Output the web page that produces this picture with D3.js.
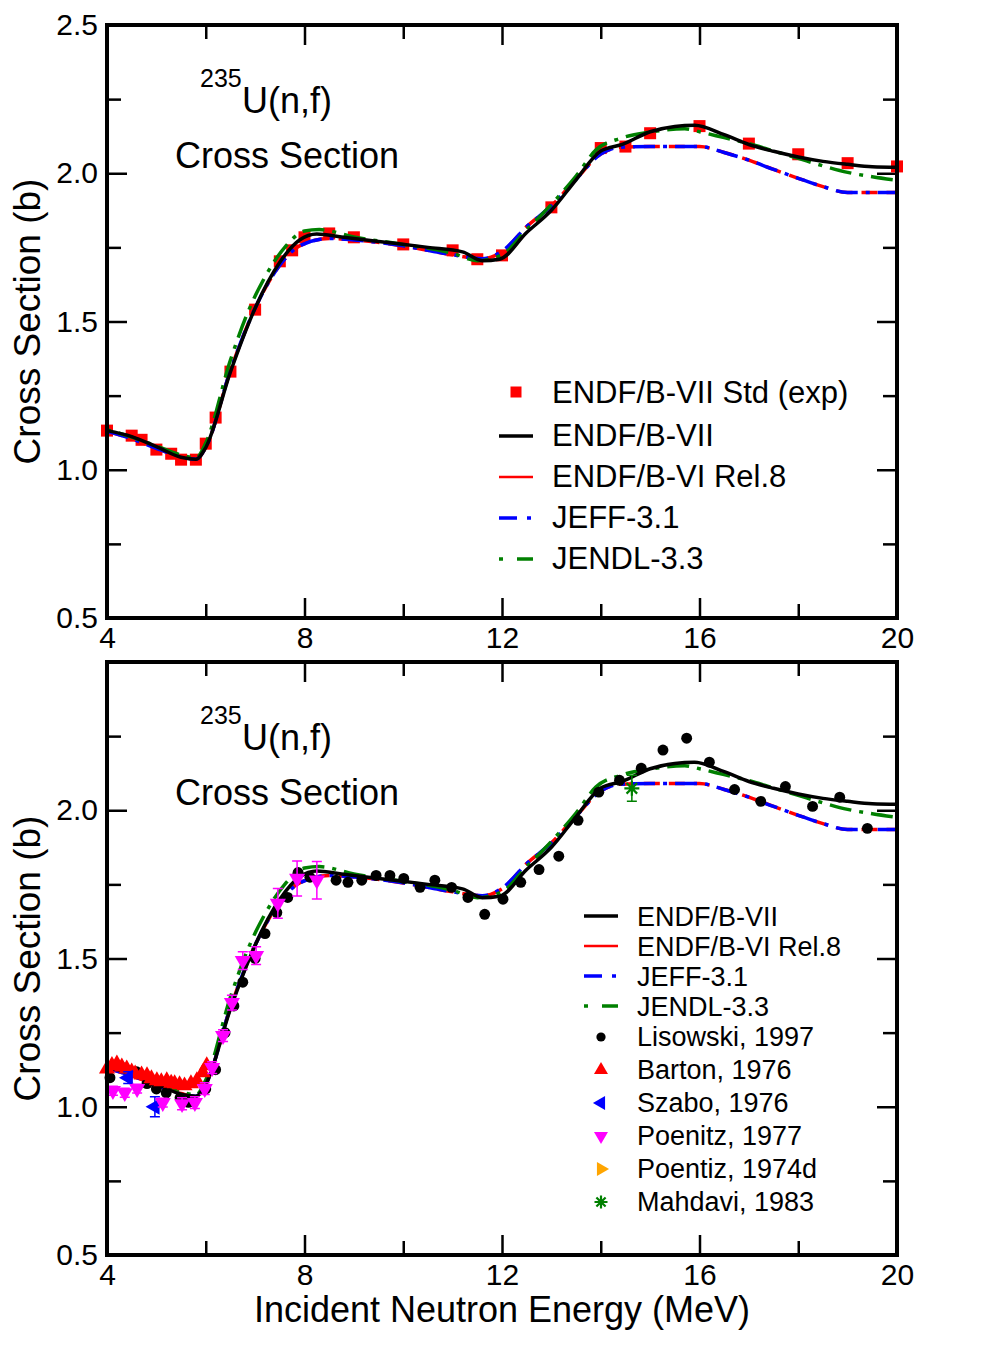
<!DOCTYPE html>
<html>
<head>
<meta charset="utf-8">
<script src="https://cdn.jsdelivr.net/npm/d3@7"></script>
<style>
  body { margin: 0; background: #fff; }
  svg { display: block; }
  text { font-family: "Liberation Sans", Arial, Helvetica, sans-serif; fill: #000; }
</style>
</head>
<body>
<svg id="chart" width="994" height="1347"></svg>
<script>
// ---- data ----
const xMajor = [4, 8, 12, 16, 20];
const xMinor = [6, 10, 14, 18];
const yMajor = [0.5, 1.0, 1.5, 2.0, 2.5];
const yMinor = [0.75, 1.25, 1.75, 2.25];

// ENDF/B-VII standards evaluation (exp), squares in top panel
const stdExp = [[4.0,1.132],[4.5,1.115],[4.7,1.101],[5.0,1.068],[5.3,1.054],[5.5,1.034],[5.8,1.034],
  [6.0,1.088],[6.2,1.176],[6.5,1.331],[7.0,1.54],[7.5,1.703],[7.75,1.74],[8.0,1.784],[8.5,1.797],
  [9.0,1.784],[10.0,1.76],[11.0,1.74],[11.5,1.71],[12.0,1.723],[13.0,1.885],[14.0,2.085],[14.5,2.09],
  [15.0,2.135],[16.0,2.159],[17.0,2.10],[18.0,2.064],[19.0,2.034],[20.0,2.023]];

const endfb7 = [[4,1.132],[4.5,1.112],[5,1.078],[5.5,1.042],[5.8,1.035],[6.0,1.075],[6.5,1.33],[7.0,1.545],
  [7.5,1.70],[7.9,1.775],[8.25,1.795],[8.75,1.785],[9.5,1.77],[10.5,1.75],[11.2,1.735],[11.6,1.705],
  [11.95,1.71],[12.5,1.80],[13,1.875],[13.5,1.978],[14,2.075],[14.45,2.098],[15,2.14],[15.5,2.158],
  [15.9,2.162],[16.5,2.13],[17,2.097],[17.5,2.074],[18,2.055],[18.5,2.04],[19,2.03],[19.5,2.022],[20,2.02]];

const endfb6 = [[4,1.13],[4.5,1.105],[5,1.072],[5.5,1.045],[5.8,1.035],[6,1.075],[6.5,1.335],[7,1.545],
  [7.5,1.69],[7.9,1.755],[8.5,1.78],[9,1.775],[10,1.755],[11,1.725],[11.6,1.712],[12,1.735],[12.5,1.82],
  [13,1.89],[13.5,1.98],[14,2.065],[14.4,2.088],[15,2.09],[16,2.09],[16.5,2.07],[17,2.044],[17.5,2.013],
  [18,1.983],[18.5,1.955],[19,1.935],[20,1.935]];

const jeff31 = [[4,1.13],[4.5,1.105],[5,1.072],[5.5,1.045],[5.8,1.035],[6,1.075],[6.5,1.335],[7,1.545],
  [7.5,1.69],[7.9,1.755],[8.5,1.78],[9,1.775],[10,1.755],[11,1.725],[11.6,1.712],[12,1.737],[12.5,1.82],
  [13,1.89],[13.5,1.98],[14,2.065],[14.4,2.088],[15,2.09],[16,2.09],[16.5,2.07],[17,2.044],[17.5,2.013],
  [18,1.983],[18.5,1.955],[19,1.935],[20,1.935]];

const jendl33 = [[4,1.135],[4.5,1.11],[5,1.08],[5.5,1.05],[5.8,1.04],[6,1.09],[6.5,1.37],[6.85,1.53],
  [7.2,1.65],[7.6,1.75],[8,1.805],[8.3,1.81],[9,1.785],[10,1.76],[11,1.73],[11.5,1.705],[12,1.725],
  [12.5,1.81],[13,1.895],[13.5,1.99],[13.9,2.078],[14.4,2.118],[15,2.139],[15.7,2.15],[16,2.14],
  [16.5,2.12],[17,2.10],[17.5,2.075],[18,2.05],[18.5,2.025],[19,2.003],[19.5,1.988],[20,1.976]];

// experimental sets, bottom panel: [E, sigma] or [E, sigma, error]
const lisowski = [[4.06,1.098],[4.32,1.132],[4.6,1.118],[4.81,1.078],[5.0,1.06],[5.2,1.047],[5.48,1.03],
  [5.65,1.015],[6.0,1.06],[6.2,1.125],[6.39,1.25],[6.57,1.34],[6.75,1.42],[7.0,1.5],[7.2,1.584],
  [7.44,1.655],[7.66,1.706],[7.87,1.79],[8.11,1.774],[8.64,1.764],[8.88,1.757],[9.16,1.764],[9.45,1.78],
  [9.73,1.78],[10.01,1.77],[10.34,1.74],[10.64,1.764],[10.98,1.74],[11.31,1.706],[11.65,1.649],
  [12.02,1.70],[12.38,1.757],[12.75,1.80],[13.15,1.845],[13.54,1.966],[13.96,2.061],[14.38,2.101],
  [14.82,2.142],[15.26,2.203],[15.74,2.243],[16.2,2.162],[16.71,2.07],[17.24,2.03],[17.74,2.08],
  [18.29,2.013],[18.84,2.044],[19.4,1.939]];

const barton = [[4.0,1.128],[4.1,1.14],[4.2,1.145],[4.3,1.135],[4.4,1.128],[4.5,1.118],[4.57,1.111],
  [4.7,1.108],[4.81,1.105],[4.9,1.095],[5.01,1.088],[5.1,1.085],[5.21,1.088],[5.3,1.08],[5.37,1.078],
  [5.47,1.075],[5.57,1.071],[5.7,1.078],[5.82,1.088],[5.94,1.115],[6.02,1.139]];

const szabo = [[4.43,1.098,0.02],[4.97,1.0,0.034]];

const poenitz = [[4.12,1.054,0.015],[4.36,1.047,0.015],[4.61,1.061,0.015],[5.13,1.014,0.015],
  [5.52,1.01,0.02],[5.78,1.014,0.02],[5.98,1.061,0.02],[6.13,1.132,0.02],[6.35,1.24,0.02],
  [6.53,1.351,0.025],[6.75,1.493,0.03],[7.02,1.51,0.03],[7.46,1.686,0.05],[7.85,1.77,0.059],[8.25,1.764,0.063]];

const poentiz74 = [];
const mahdavi = [[14.63,2.074,0.044]];

// ---- layout ----
const svg = d3.select('#chart');
svg.append('rect').attr('width', 994).attr('height', 1347).attr('fill', '#fff');

const x = d3.scaleLinear().domain([4, 20]).range([107, 897]);

const curves = [
  { name: 'ENDF/B-VI Rel.8', data: endfb6, color: '#ff0000', dash: '16,9' },
  { name: 'JEFF-3.1', data: jeff31, color: '#0000ff', dash: '22,8,4,8' },
  { name: 'JENDL-3.3', data: jendl33, color: '#008000', dash: '4,8,22,8' },
  { name: 'ENDF/B-VII', data: endfb7, color: '#000000', dash: null }
];

const tri = d3.symbol().type(d3.symbolTriangle);
const markerSets = [
  { name: 'Lisowski, 1997', data: lisowski, color: '#000', kind: 'circle' },
  { name: 'Barton, 1976', data: barton, color: '#ff0000', kind: 'up' },
  { name: 'Szabo, 1976', data: szabo, color: '#0000ff', kind: 'left' },
  { name: 'Poenitz, 1977', data: poenitz, color: '#ff00ff', kind: 'down' },
  { name: 'Poentiz, 1974d', data: poentiz74, color: '#ffa500', kind: 'right' },
  { name: 'Mahdavi, 1983', data: mahdavi, color: '#008000', kind: 'star' }
];

function drawMarker(g, kind, color, cx, cy, s) {
  const rot = { up: 0, down: 180, left: -90, right: 90 };
  if (kind === 'circle') {
    g.append('circle').attr('cx', cx).attr('cy', cy).attr('r', s * 0.42).attr('fill', color);
  } else if (kind === 'square') {
    g.append('rect').attr('x', cx - s / 2).attr('y', cy - s / 2).attr('width', s).attr('height', s).attr('fill', color);
  } else if (kind === 'star') {
    const r = s * 0.5;
    const p = d3.path();
    for (let a = 0; a < 4; a++) {
      const t = a * Math.PI / 4;
      p.moveTo(cx - r * Math.cos(t), cy - r * Math.sin(t));
      p.lineTo(cx + r * Math.cos(t), cy + r * Math.sin(t));
    }
    g.append('path').attr('d', p.toString()).attr('stroke', color).attr('stroke-width', 2.2);
  } else {
    g.append('path').attr('d', tri.size(s * s * 0.5)())
      .attr('transform', `translate(${cx},${cy}) rotate(${rot[kind]})`)
      .attr('fill', color);
  }
}

function drawPanel(top, bottom, showTopLabel) {
  const y = d3.scaleLinear().domain([0.5, 2.5]).range([bottom, top]);
  const g = svg.append('g');

  const axes = [
    [d3.axisBottom(x), `translate(0,${bottom})`, xMajor, xMinor, d => d],
    [d3.axisTop(x), `translate(0,${top})`, xMajor, xMinor, null],
    [d3.axisLeft(y), `translate(107,0)`, yMajor, yMinor,
      d => (d === 2.5 && !showTopLabel) ? '' : d3.format('.1f')(d)],
    [d3.axisRight(y), `translate(897,0)`, yMajor, yMinor, null]
  ];
  axes.forEach(([ax, tr, major, minor, fmt]) => {
    g.append('g').attr('transform', tr)
      .call(ax.tickValues(major).tickSize(-20).tickPadding(fmt ? 9 : 0).tickFormat(fmt ? fmt : () => ''))
      .call(a => a.select('.domain').remove())
      .call(a => a.selectAll('line').attr('stroke', '#000').attr('stroke-width', 2.5))
      .call(a => a.selectAll('text').attr('font-size', 30).attr('fill', '#000')
        .attr('font-family', '"Liberation Sans", Arial, sans-serif'));
    g.append('g').attr('transform', tr)
      .call(ax.tickValues(minor).tickSize(-14).tickFormat(() => ''))
      .call(a => a.select('.domain').remove())
      .call(a => a.selectAll('line').attr('stroke', '#000').attr('stroke-width', 2.5));
  });

  // title inside the frame
  g.append('text').attr('x', 200).attr('y', top + 62).attr('font-size', 25).text('235');
  g.append('text').attr('x', 242).attr('y', top + 88).attr('font-size', 36).text('U(n,f)');
  g.append('text').attr('x', 175).attr('y', top + 143).attr('font-size', 36).text('Cross Section');

  // y axis title
  g.append('text').attr('transform', `translate(40,${(top + bottom) / 2}) rotate(-90)`)
    .attr('text-anchor', 'middle').attr('font-size', 37).text('Cross Section (b)');

  return { g, y };
}

const line = y => d3.line().x(d => x(d[0])).y(d => y(d[1])).curve(d3.curveMonotoneX);

function drawCurves(g, y) {
  curves.forEach(c => {
    g.append('path').datum(c.data).attr('d', line(y))
      .attr('fill', 'none').attr('stroke', c.color).attr('stroke-width', 3.5)
      .attr('stroke-dasharray', c.dash);
  });
}

function legendLine(g, c, x0, yc, len) {
  g.append('line').attr('x1', x0).attr('x2', x0 + len).attr('y1', yc).attr('y2', yc)
    .attr('stroke', c.color).attr('stroke-width', c.name === 'ENDF/B-VI Rel.8' ? 2.5 : 3.5)
    .attr('stroke-dasharray', c.name === 'JEFF-3.1' ? '18,10,4,10' :
      c.name === 'JENDL-3.3' ? '4,14,18,0' : null);
}

// ---- top panel ----
const topP = drawPanel(25, 618, true);
topP.g.selectAll('rect.std').data(stdExp).join('rect').attr('class', 'std')
  .attr('x', d => x(d[0]) - 6).attr('y', d => topP.y(d[1]) - 6)
  .attr('width', 12).attr('height', 12).attr('fill', '#ff0000');
drawCurves(topP.g, topP.y);

{
  const lg = topP.g.append('g');
  const order = ['ENDF/B-VII', 'ENDF/B-VI Rel.8', 'JEFF-3.1', 'JENDL-3.3'];
  drawMarker(lg, 'square', '#ff0000', 516, 392, 11);
  lg.append('text').attr('x', 552).attr('y', 403).attr('font-size', 31).text('ENDF/B-VII Std (exp)');
  order.forEach((n, i) => {
    const c = curves.find(k => k.name === n);
    const yb = 446 + i * 41;
    legendLine(lg, c, 499, yb - 10, 34);
    lg.append('text').attr('x', 552).attr('y', yb).attr('font-size', 31).text(n);
  });
}

// ---- bottom panel ----
const botP = drawPanel(662, 1255, false);
drawCurves(botP.g, botP.y);

markerSets.forEach(m => {
  const mg = botP.g.append('g');
  m.data.forEach(d => {
    const cx = x(d[0]), cy = botP.y(d[1]);
    if (d[2]) {
      const y1 = botP.y(d[1] - d[2]), y2 = botP.y(d[1] + d[2]);
      mg.append('path').attr('d', `M${cx},${y1}V${y2}M${cx - 5},${y1}H${cx + 5}M${cx - 5},${y2}H${cx + 5}`)
        .attr('stroke', m.color).attr('stroke-width', 1.5).attr('fill', 'none');
    }
    drawMarker(mg, m.kind, m.color, cx, cy, m.kind === 'circle' ? 13 : 15);
  });
});

{
  const lg = botP.g.append('g');
  const order = ['ENDF/B-VII', 'ENDF/B-VI Rel.8', 'JEFF-3.1', 'JENDL-3.3'];
  order.forEach((n, i) => {
    const c = curves.find(k => k.name === n);
    const yb = 926 + i * 30;
    legendLine(lg, c, 584, yb - 10, 34);
    lg.append('text').attr('x', 637).attr('y', yb).attr('font-size', 27).text(n);
  });
  markerSets.forEach((m, i) => {
    const yb = 1046 + i * 33;
    drawMarker(lg, m.kind, m.color, 601, yb - 9, m.kind === 'circle' ? 11 : 13);
    lg.append('text').attr('x', 637).attr('y', yb).attr('font-size', 27).text(m.name);
  });
}

// frames on top
[[25, 618], [662, 1255]].forEach(([t, b]) => {
  svg.append('rect').attr('x', 107).attr('y', t).attr('width', 790).attr('height', b - t)
    .attr('fill', 'none').attr('stroke', '#000').attr('stroke-width', 4);
});

// x axis title
svg.append('text').attr('x', 502).attr('y', 1322).attr('text-anchor', 'middle')
  .attr('font-size', 36).text('Incident Neutron Energy (MeV)');
</script>
</body>
</html>
